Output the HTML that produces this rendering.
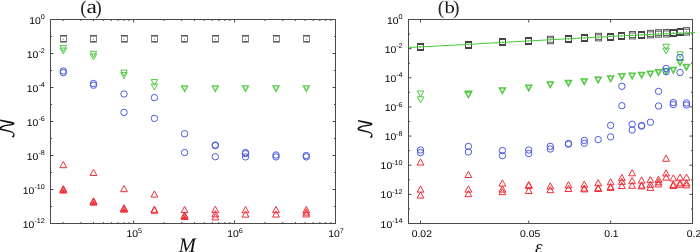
<!DOCTYPE html>
<html><head><meta charset="utf-8"><title>plot</title>
<style>
html,body{margin:0;padding:0;background:#fff;}
body{width:700px;height:252px;overflow:hidden;}
svg{display:block;text-rendering:geometricPrecision;}
</style></head>
<body>
<svg width="700" height="252" viewBox="0 0 700 252">
<rect width="700" height="252" fill="#fff"/>
<g>
<g id="left">
<line x1="63.11" y1="223.5" x2="63.11" y2="222.0" stroke="#4a4a4a" stroke-width="1"/>
<line x1="63.11" y1="19.5" x2="63.11" y2="21.0" stroke="#4a4a4a" stroke-width="1"/>
<line x1="80.88" y1="223.5" x2="80.88" y2="222.0" stroke="#4a4a4a" stroke-width="1"/>
<line x1="80.88" y1="19.5" x2="80.88" y2="21.0" stroke="#4a4a4a" stroke-width="1"/>
<line x1="93.49" y1="223.5" x2="93.49" y2="222.0" stroke="#4a4a4a" stroke-width="1"/>
<line x1="93.49" y1="19.5" x2="93.49" y2="21.0" stroke="#4a4a4a" stroke-width="1"/>
<line x1="103.27" y1="223.5" x2="103.27" y2="222.0" stroke="#4a4a4a" stroke-width="1"/>
<line x1="103.27" y1="19.5" x2="103.27" y2="21.0" stroke="#4a4a4a" stroke-width="1"/>
<line x1="111.26" y1="223.5" x2="111.26" y2="222.0" stroke="#4a4a4a" stroke-width="1"/>
<line x1="111.26" y1="19.5" x2="111.26" y2="21.0" stroke="#4a4a4a" stroke-width="1"/>
<line x1="118.02" y1="223.5" x2="118.02" y2="222.0" stroke="#4a4a4a" stroke-width="1"/>
<line x1="118.02" y1="19.5" x2="118.02" y2="21.0" stroke="#4a4a4a" stroke-width="1"/>
<line x1="123.87" y1="223.5" x2="123.87" y2="222.0" stroke="#4a4a4a" stroke-width="1"/>
<line x1="123.87" y1="19.5" x2="123.87" y2="21.0" stroke="#4a4a4a" stroke-width="1"/>
<line x1="129.03" y1="223.5" x2="129.03" y2="222.0" stroke="#4a4a4a" stroke-width="1"/>
<line x1="129.03" y1="19.5" x2="129.03" y2="21.0" stroke="#4a4a4a" stroke-width="1"/>
<line x1="133.65" y1="223.5" x2="133.65" y2="220.5" stroke="#4a4a4a" stroke-width="1"/>
<line x1="133.65" y1="19.5" x2="133.65" y2="22.5" stroke="#4a4a4a" stroke-width="1"/>
<line x1="164.03" y1="223.5" x2="164.03" y2="222.0" stroke="#4a4a4a" stroke-width="1"/>
<line x1="164.03" y1="19.5" x2="164.03" y2="21.0" stroke="#4a4a4a" stroke-width="1"/>
<line x1="181.81" y1="223.5" x2="181.81" y2="222.0" stroke="#4a4a4a" stroke-width="1"/>
<line x1="181.81" y1="19.5" x2="181.81" y2="21.0" stroke="#4a4a4a" stroke-width="1"/>
<line x1="194.41" y1="223.5" x2="194.41" y2="222.0" stroke="#4a4a4a" stroke-width="1"/>
<line x1="194.41" y1="19.5" x2="194.41" y2="21.0" stroke="#4a4a4a" stroke-width="1"/>
<line x1="204.19" y1="223.5" x2="204.19" y2="222.0" stroke="#4a4a4a" stroke-width="1"/>
<line x1="204.19" y1="19.5" x2="204.19" y2="21.0" stroke="#4a4a4a" stroke-width="1"/>
<line x1="212.19" y1="223.5" x2="212.19" y2="222.0" stroke="#4a4a4a" stroke-width="1"/>
<line x1="212.19" y1="19.5" x2="212.19" y2="21.0" stroke="#4a4a4a" stroke-width="1"/>
<line x1="218.94" y1="223.5" x2="218.94" y2="222.0" stroke="#4a4a4a" stroke-width="1"/>
<line x1="218.94" y1="19.5" x2="218.94" y2="21.0" stroke="#4a4a4a" stroke-width="1"/>
<line x1="224.80" y1="223.5" x2="224.80" y2="222.0" stroke="#4a4a4a" stroke-width="1"/>
<line x1="224.80" y1="19.5" x2="224.80" y2="21.0" stroke="#4a4a4a" stroke-width="1"/>
<line x1="229.96" y1="223.5" x2="229.96" y2="222.0" stroke="#4a4a4a" stroke-width="1"/>
<line x1="229.96" y1="19.5" x2="229.96" y2="21.0" stroke="#4a4a4a" stroke-width="1"/>
<line x1="234.58" y1="223.5" x2="234.58" y2="220.5" stroke="#4a4a4a" stroke-width="1"/>
<line x1="234.58" y1="19.5" x2="234.58" y2="22.5" stroke="#4a4a4a" stroke-width="1"/>
<line x1="264.96" y1="223.5" x2="264.96" y2="222.0" stroke="#4a4a4a" stroke-width="1"/>
<line x1="264.96" y1="19.5" x2="264.96" y2="21.0" stroke="#4a4a4a" stroke-width="1"/>
<line x1="282.73" y1="223.5" x2="282.73" y2="222.0" stroke="#4a4a4a" stroke-width="1"/>
<line x1="282.73" y1="19.5" x2="282.73" y2="21.0" stroke="#4a4a4a" stroke-width="1"/>
<line x1="295.34" y1="223.5" x2="295.34" y2="222.0" stroke="#4a4a4a" stroke-width="1"/>
<line x1="295.34" y1="19.5" x2="295.34" y2="21.0" stroke="#4a4a4a" stroke-width="1"/>
<line x1="305.12" y1="223.5" x2="305.12" y2="222.0" stroke="#4a4a4a" stroke-width="1"/>
<line x1="305.12" y1="19.5" x2="305.12" y2="21.0" stroke="#4a4a4a" stroke-width="1"/>
<line x1="313.11" y1="223.5" x2="313.11" y2="222.0" stroke="#4a4a4a" stroke-width="1"/>
<line x1="313.11" y1="19.5" x2="313.11" y2="21.0" stroke="#4a4a4a" stroke-width="1"/>
<line x1="319.87" y1="223.5" x2="319.87" y2="222.0" stroke="#4a4a4a" stroke-width="1"/>
<line x1="319.87" y1="19.5" x2="319.87" y2="21.0" stroke="#4a4a4a" stroke-width="1"/>
<line x1="325.72" y1="223.5" x2="325.72" y2="222.0" stroke="#4a4a4a" stroke-width="1"/>
<line x1="325.72" y1="19.5" x2="325.72" y2="21.0" stroke="#4a4a4a" stroke-width="1"/>
<line x1="330.88" y1="223.5" x2="330.88" y2="222.0" stroke="#4a4a4a" stroke-width="1"/>
<line x1="330.88" y1="19.5" x2="330.88" y2="21.0" stroke="#4a4a4a" stroke-width="1"/>
<line x1="50.5" y1="19.50" x2="53.5" y2="19.50" stroke="#4a4a4a" stroke-width="1"/>
<line x1="335.5" y1="19.50" x2="332.5" y2="19.50" stroke="#4a4a4a" stroke-width="1"/>
<line x1="50.5" y1="36.50" x2="52.0" y2="36.50" stroke="#4a4a4a" stroke-width="1"/>
<line x1="335.5" y1="36.50" x2="334.0" y2="36.50" stroke="#4a4a4a" stroke-width="1"/>
<line x1="50.5" y1="53.50" x2="53.5" y2="53.50" stroke="#4a4a4a" stroke-width="1"/>
<line x1="335.5" y1="53.50" x2="332.5" y2="53.50" stroke="#4a4a4a" stroke-width="1"/>
<line x1="50.5" y1="70.50" x2="52.0" y2="70.50" stroke="#4a4a4a" stroke-width="1"/>
<line x1="335.5" y1="70.50" x2="334.0" y2="70.50" stroke="#4a4a4a" stroke-width="1"/>
<line x1="50.5" y1="87.50" x2="53.5" y2="87.50" stroke="#4a4a4a" stroke-width="1"/>
<line x1="335.5" y1="87.50" x2="332.5" y2="87.50" stroke="#4a4a4a" stroke-width="1"/>
<line x1="50.5" y1="104.50" x2="52.0" y2="104.50" stroke="#4a4a4a" stroke-width="1"/>
<line x1="335.5" y1="104.50" x2="334.0" y2="104.50" stroke="#4a4a4a" stroke-width="1"/>
<line x1="50.5" y1="121.50" x2="53.5" y2="121.50" stroke="#4a4a4a" stroke-width="1"/>
<line x1="335.5" y1="121.50" x2="332.5" y2="121.50" stroke="#4a4a4a" stroke-width="1"/>
<line x1="50.5" y1="138.50" x2="52.0" y2="138.50" stroke="#4a4a4a" stroke-width="1"/>
<line x1="335.5" y1="138.50" x2="334.0" y2="138.50" stroke="#4a4a4a" stroke-width="1"/>
<line x1="50.5" y1="155.50" x2="53.5" y2="155.50" stroke="#4a4a4a" stroke-width="1"/>
<line x1="335.5" y1="155.50" x2="332.5" y2="155.50" stroke="#4a4a4a" stroke-width="1"/>
<line x1="50.5" y1="172.50" x2="52.0" y2="172.50" stroke="#4a4a4a" stroke-width="1"/>
<line x1="335.5" y1="172.50" x2="334.0" y2="172.50" stroke="#4a4a4a" stroke-width="1"/>
<line x1="50.5" y1="189.50" x2="53.5" y2="189.50" stroke="#4a4a4a" stroke-width="1"/>
<line x1="335.5" y1="189.50" x2="332.5" y2="189.50" stroke="#4a4a4a" stroke-width="1"/>
<line x1="50.5" y1="206.50" x2="52.0" y2="206.50" stroke="#4a4a4a" stroke-width="1"/>
<line x1="335.5" y1="206.50" x2="334.0" y2="206.50" stroke="#4a4a4a" stroke-width="1"/>
<line x1="50.5" y1="223.50" x2="53.5" y2="223.50" stroke="#4a4a4a" stroke-width="1"/>
<line x1="335.5" y1="223.50" x2="332.5" y2="223.50" stroke="#4a4a4a" stroke-width="1"/>
<rect x="50.5" y="19.5" width="285.0" height="204.0" fill="none" stroke="#4a4a4a" stroke-width="1"/>
</g>
<rect x="60.50" y="35.50" width="6.00" height="6.00" fill="none" stroke="#5a5a5a" stroke-width="1.0"/>
<rect x="60.50" y="36.50" width="6.00" height="6.00" fill="none" stroke="#8a8a8a" stroke-width="0.8"/>
<circle cx="63.30" cy="39.2" r="0.6" fill="#888"/>
<rect x="90.50" y="35.50" width="6.00" height="6.00" fill="none" stroke="#5a5a5a" stroke-width="1.0"/>
<rect x="90.50" y="36.50" width="6.00" height="6.00" fill="none" stroke="#8a8a8a" stroke-width="0.8"/>
<circle cx="93.50" cy="39.2" r="0.6" fill="#888"/>
<rect x="121.50" y="35.50" width="6.00" height="6.00" fill="none" stroke="#5a5a5a" stroke-width="1.0"/>
<rect x="121.50" y="36.50" width="6.00" height="6.00" fill="none" stroke="#8a8a8a" stroke-width="0.8"/>
<circle cx="124.00" cy="39.2" r="0.6" fill="#888"/>
<rect x="151.50" y="35.50" width="6.00" height="6.00" fill="none" stroke="#5a5a5a" stroke-width="1.0"/>
<rect x="151.50" y="36.50" width="6.00" height="6.00" fill="none" stroke="#8a8a8a" stroke-width="0.8"/>
<circle cx="154.40" cy="39.2" r="0.6" fill="#888"/>
<rect x="181.50" y="35.50" width="6.00" height="6.00" fill="none" stroke="#5a5a5a" stroke-width="1.0"/>
<rect x="181.50" y="36.50" width="6.00" height="6.00" fill="none" stroke="#8a8a8a" stroke-width="0.8"/>
<circle cx="184.60" cy="39.2" r="0.6" fill="#888"/>
<rect x="212.50" y="35.50" width="6.00" height="6.00" fill="none" stroke="#5a5a5a" stroke-width="1.0"/>
<rect x="212.50" y="36.50" width="6.00" height="6.00" fill="none" stroke="#8a8a8a" stroke-width="0.8"/>
<circle cx="215.30" cy="39.2" r="0.6" fill="#888"/>
<rect x="242.50" y="35.50" width="6.00" height="6.00" fill="none" stroke="#5a5a5a" stroke-width="1.0"/>
<rect x="242.50" y="36.50" width="6.00" height="6.00" fill="none" stroke="#8a8a8a" stroke-width="0.8"/>
<circle cx="245.50" cy="39.2" r="0.6" fill="#888"/>
<rect x="273.50" y="35.50" width="6.00" height="6.00" fill="none" stroke="#5a5a5a" stroke-width="1.0"/>
<rect x="273.50" y="36.50" width="6.00" height="6.00" fill="none" stroke="#8a8a8a" stroke-width="0.8"/>
<circle cx="276.00" cy="39.2" r="0.6" fill="#888"/>
<rect x="303.50" y="35.50" width="6.00" height="6.00" fill="none" stroke="#5a5a5a" stroke-width="1.0"/>
<rect x="303.50" y="36.50" width="6.00" height="6.00" fill="none" stroke="#8a8a8a" stroke-width="0.8"/>
<circle cx="306.30" cy="39.2" r="0.6" fill="#888"/>
<polygon points="60.05,45.40 66.55,45.40 63.30,51.40" fill="none" stroke="#55c848" stroke-width="1.0" stroke-linejoin="miter"/>
<polygon points="60.05,48.00 66.55,48.00 63.30,54.00" fill="none" stroke="#55c848" stroke-width="1.0" stroke-linejoin="miter"/>
<polygon points="90.25,51.30 96.75,51.30 93.50,57.30" fill="none" stroke="#55c848" stroke-width="1.0" stroke-linejoin="miter"/>
<polygon points="90.25,53.90 96.75,53.90 93.50,59.90" fill="none" stroke="#55c848" stroke-width="1.0" stroke-linejoin="miter"/>
<polygon points="120.75,70.10 127.25,70.10 124.00,76.10" fill="none" stroke="#55c848" stroke-width="1.0" stroke-linejoin="miter"/>
<polygon points="120.75,72.60 127.25,72.60 124.00,78.60" fill="none" stroke="#55c848" stroke-width="1.0" stroke-linejoin="miter"/>
<polygon points="151.15,79.60 157.65,79.60 154.40,85.60" fill="none" stroke="#55c848" stroke-width="1.0" stroke-linejoin="miter"/>
<polygon points="151.15,84.00 157.65,84.00 154.40,90.00" fill="none" stroke="#55c848" stroke-width="1.0" stroke-linejoin="miter"/>
<polygon points="181.60,85.85 187.60,85.85 184.60,91.35" fill="#e4f6e0" stroke="#5ccc50" stroke-width="1.3" stroke-linejoin="miter"/>
<polygon points="212.30,85.85 218.30,85.85 215.30,91.35" fill="#e4f6e0" stroke="#5ccc50" stroke-width="1.3" stroke-linejoin="miter"/>
<polygon points="242.50,85.85 248.50,85.85 245.50,91.35" fill="#e4f6e0" stroke="#5ccc50" stroke-width="1.3" stroke-linejoin="miter"/>
<polygon points="273.00,85.85 279.00,85.85 276.00,91.35" fill="#e4f6e0" stroke="#5ccc50" stroke-width="1.3" stroke-linejoin="miter"/>
<polygon points="303.30,85.85 309.30,85.85 306.30,91.35" fill="#e4f6e0" stroke="#5ccc50" stroke-width="1.3" stroke-linejoin="miter"/>
<circle cx="63.30" cy="71.00" r="3.20" fill="none" stroke="#4c5ce2" stroke-width="1.0"/>
<circle cx="63.30" cy="72.60" r="3.20" fill="none" stroke="#4c5ce2" stroke-width="1.0"/>
<circle cx="93.50" cy="83.50" r="3.20" fill="none" stroke="#4c5ce2" stroke-width="1.0"/>
<circle cx="93.50" cy="85.20" r="3.20" fill="none" stroke="#4c5ce2" stroke-width="1.0"/>
<circle cx="124.00" cy="94.00" r="3.20" fill="none" stroke="#4c5ce2" stroke-width="1.0"/>
<circle cx="124.00" cy="112.40" r="3.20" fill="none" stroke="#4c5ce2" stroke-width="1.0"/>
<circle cx="154.40" cy="97.60" r="3.20" fill="none" stroke="#4c5ce2" stroke-width="1.0"/>
<circle cx="154.40" cy="118.40" r="3.20" fill="none" stroke="#4c5ce2" stroke-width="1.0"/>
<circle cx="184.60" cy="133.70" r="3.20" fill="none" stroke="#4c5ce2" stroke-width="1.0"/>
<circle cx="184.60" cy="152.50" r="3.20" fill="none" stroke="#4c5ce2" stroke-width="1.0"/>
<circle cx="215.30" cy="145.00" r="3.20" fill="none" stroke="#4c5ce2" stroke-width="1.0"/>
<circle cx="215.30" cy="145.60" r="3.20" fill="none" stroke="#4c5ce2" stroke-width="1.0"/>
<circle cx="215.30" cy="156.70" r="3.20" fill="none" stroke="#4c5ce2" stroke-width="1.0"/>
<circle cx="245.50" cy="152.60" r="3.20" fill="none" stroke="#4c5ce2" stroke-width="1.0"/>
<circle cx="245.50" cy="153.60" r="3.20" fill="none" stroke="#4c5ce2" stroke-width="1.0"/>
<circle cx="245.50" cy="156.90" r="3.20" fill="none" stroke="#4c5ce2" stroke-width="1.0"/>
<circle cx="276.00" cy="155.00" r="3.20" fill="none" stroke="#4c5ce2" stroke-width="1.0"/>
<circle cx="276.00" cy="156.90" r="3.20" fill="none" stroke="#4c5ce2" stroke-width="1.0"/>
<circle cx="306.30" cy="155.50" r="3.20" fill="none" stroke="#4c5ce2" stroke-width="1.0"/>
<circle cx="306.30" cy="156.90" r="3.20" fill="none" stroke="#4c5ce2" stroke-width="1.0"/>
<polygon points="59.90,167.70 66.70,167.70 63.30,161.50" fill="none" stroke="#f0303a" stroke-width="1.0" stroke-linejoin="miter"/>
<polygon points="59.90,192.50 66.70,192.50 63.30,186.30" fill="#f0303a" stroke="#f0303a" stroke-width="1.0" stroke-linejoin="miter"/>
<polygon points="59.90,193.80 66.70,193.80 63.30,187.60" fill="none" stroke="#fff" stroke-width="0.7" stroke-linejoin="miter"/>
<polygon points="59.90,191.90 66.70,191.90 63.30,185.70" fill="none" stroke="#f0303a" stroke-width="1.0" stroke-linejoin="miter"/>
<polygon points="59.90,193.10 66.70,193.10 63.30,186.90" fill="none" stroke="#f0303a" stroke-width="1.0" stroke-linejoin="miter"/>
<polygon points="90.10,175.50 96.90,175.50 93.50,169.30" fill="none" stroke="#f0303a" stroke-width="1.0" stroke-linejoin="miter"/>
<polygon points="90.10,204.60 96.90,204.60 93.50,198.40" fill="#f0303a" stroke="#f0303a" stroke-width="1.0" stroke-linejoin="miter"/>
<polygon points="90.10,205.90 96.90,205.90 93.50,199.70" fill="none" stroke="#fff" stroke-width="0.7" stroke-linejoin="miter"/>
<polygon points="90.10,204.00 96.90,204.00 93.50,197.80" fill="none" stroke="#f0303a" stroke-width="1.0" stroke-linejoin="miter"/>
<polygon points="90.10,205.20 96.90,205.20 93.50,199.00" fill="none" stroke="#f0303a" stroke-width="1.0" stroke-linejoin="miter"/>
<polygon points="120.60,191.70 127.40,191.70 124.00,185.50" fill="none" stroke="#f0303a" stroke-width="1.0" stroke-linejoin="miter"/>
<polygon points="120.60,211.60 127.40,211.60 124.00,205.40" fill="#f0303a" stroke="#f0303a" stroke-width="1.0" stroke-linejoin="miter"/>
<polygon points="120.60,212.90 127.40,212.90 124.00,206.70" fill="none" stroke="#fff" stroke-width="0.7" stroke-linejoin="miter"/>
<polygon points="120.60,211.00 127.40,211.00 124.00,204.80" fill="none" stroke="#f0303a" stroke-width="1.0" stroke-linejoin="miter"/>
<polygon points="120.60,212.20 127.40,212.20 124.00,206.00" fill="none" stroke="#f0303a" stroke-width="1.0" stroke-linejoin="miter"/>
<polygon points="151.00,197.10 157.80,197.10 154.40,190.90" fill="none" stroke="#f0303a" stroke-width="1.0" stroke-linejoin="miter"/>
<polygon points="151.00,212.30 157.80,212.30 154.40,206.10" fill="none" stroke="#f0303a" stroke-width="1.0" stroke-linejoin="miter"/>
<polygon points="151.00,213.30 157.80,213.30 154.40,207.10" fill="none" stroke="#f0303a" stroke-width="1.0" stroke-linejoin="miter"/>
<polygon points="181.20,212.50 188.00,212.50 184.60,206.30" fill="none" stroke="#f0303a" stroke-width="1.0" stroke-linejoin="miter"/>
<polygon points="181.20,218.90 188.00,218.90 184.60,212.70" fill="#f0303a" stroke="#f0303a" stroke-width="1.0" stroke-linejoin="miter"/>
<polygon points="181.20,220.20 188.00,220.20 184.60,214.00" fill="none" stroke="#fff" stroke-width="0.7" stroke-linejoin="miter"/>
<polygon points="181.20,218.30 188.00,218.30 184.60,212.10" fill="none" stroke="#f0303a" stroke-width="1.0" stroke-linejoin="miter"/>
<polygon points="181.20,219.50 188.00,219.50 184.60,213.30" fill="none" stroke="#f0303a" stroke-width="1.0" stroke-linejoin="miter"/>
<polygon points="211.90,212.40 218.70,212.40 215.30,206.20" fill="none" stroke="#f0303a" stroke-width="1.0" stroke-linejoin="miter"/>
<polygon points="211.90,216.90 218.70,216.90 215.30,210.70" fill="none" stroke="#f0303a" stroke-width="1.0" stroke-linejoin="miter"/>
<polygon points="211.90,219.90 218.70,219.90 215.30,213.70" fill="none" stroke="#f0303a" stroke-width="1.0" stroke-linejoin="miter"/>
<polygon points="242.10,212.70 248.90,212.70 245.50,206.50" fill="none" stroke="#f0303a" stroke-width="1.0" stroke-linejoin="miter"/>
<polygon points="242.10,217.10 248.90,217.10 245.50,210.90" fill="none" stroke="#f0303a" stroke-width="1.0" stroke-linejoin="miter"/>
<polygon points="272.60,212.70 279.40,212.70 276.00,206.50" fill="none" stroke="#f0303a" stroke-width="1.0" stroke-linejoin="miter"/>
<polygon points="272.60,217.10 279.40,217.10 276.00,210.90" fill="none" stroke="#f0303a" stroke-width="1.0" stroke-linejoin="miter"/>
<polygon points="302.90,212.70 309.70,212.70 306.30,206.50" fill="none" stroke="#f0303a" stroke-width="1.0" stroke-linejoin="miter"/>
<polygon points="302.90,215.10 309.70,215.10 306.30,208.90" fill="none" stroke="#f0303a" stroke-width="1.0" stroke-linejoin="miter"/>
<polygon points="302.90,216.90 309.70,216.90 306.30,210.70" fill="none" stroke="#f0303a" stroke-width="1.0" stroke-linejoin="miter"/>
<g id="right">
<line x1="420.50" y1="223.5" x2="420.50" y2="220.5" stroke="#4a4a4a" stroke-width="1"/>
<line x1="420.50" y1="19.5" x2="420.50" y2="22.5" stroke="#4a4a4a" stroke-width="1"/>
<line x1="528.74" y1="223.5" x2="528.74" y2="220.5" stroke="#4a4a4a" stroke-width="1"/>
<line x1="528.74" y1="19.5" x2="528.74" y2="22.5" stroke="#4a4a4a" stroke-width="1"/>
<line x1="610.62" y1="223.5" x2="610.62" y2="220.5" stroke="#4a4a4a" stroke-width="1"/>
<line x1="610.62" y1="19.5" x2="610.62" y2="22.5" stroke="#4a4a4a" stroke-width="1"/>
<line x1="692.50" y1="223.5" x2="692.50" y2="220.5" stroke="#4a4a4a" stroke-width="1"/>
<line x1="692.50" y1="19.5" x2="692.50" y2="22.5" stroke="#4a4a4a" stroke-width="1"/>
<line x1="408.5" y1="19.50" x2="411.5" y2="19.50" stroke="#4a4a4a" stroke-width="1"/>
<line x1="692.5" y1="19.50" x2="689.5" y2="19.50" stroke="#4a4a4a" stroke-width="1"/>
<line x1="408.5" y1="34.07" x2="410.0" y2="34.07" stroke="#4a4a4a" stroke-width="1"/>
<line x1="692.5" y1="34.07" x2="691.0" y2="34.07" stroke="#4a4a4a" stroke-width="1"/>
<line x1="408.5" y1="48.64" x2="411.5" y2="48.64" stroke="#4a4a4a" stroke-width="1"/>
<line x1="692.5" y1="48.64" x2="689.5" y2="48.64" stroke="#4a4a4a" stroke-width="1"/>
<line x1="408.5" y1="63.21" x2="410.0" y2="63.21" stroke="#4a4a4a" stroke-width="1"/>
<line x1="692.5" y1="63.21" x2="691.0" y2="63.21" stroke="#4a4a4a" stroke-width="1"/>
<line x1="408.5" y1="77.79" x2="411.5" y2="77.79" stroke="#4a4a4a" stroke-width="1"/>
<line x1="692.5" y1="77.79" x2="689.5" y2="77.79" stroke="#4a4a4a" stroke-width="1"/>
<line x1="408.5" y1="92.36" x2="410.0" y2="92.36" stroke="#4a4a4a" stroke-width="1"/>
<line x1="692.5" y1="92.36" x2="691.0" y2="92.36" stroke="#4a4a4a" stroke-width="1"/>
<line x1="408.5" y1="106.93" x2="411.5" y2="106.93" stroke="#4a4a4a" stroke-width="1"/>
<line x1="692.5" y1="106.93" x2="689.5" y2="106.93" stroke="#4a4a4a" stroke-width="1"/>
<line x1="408.5" y1="121.50" x2="410.0" y2="121.50" stroke="#4a4a4a" stroke-width="1"/>
<line x1="692.5" y1="121.50" x2="691.0" y2="121.50" stroke="#4a4a4a" stroke-width="1"/>
<line x1="408.5" y1="136.07" x2="411.5" y2="136.07" stroke="#4a4a4a" stroke-width="1"/>
<line x1="692.5" y1="136.07" x2="689.5" y2="136.07" stroke="#4a4a4a" stroke-width="1"/>
<line x1="408.5" y1="150.64" x2="410.0" y2="150.64" stroke="#4a4a4a" stroke-width="1"/>
<line x1="692.5" y1="150.64" x2="691.0" y2="150.64" stroke="#4a4a4a" stroke-width="1"/>
<line x1="408.5" y1="165.21" x2="411.5" y2="165.21" stroke="#4a4a4a" stroke-width="1"/>
<line x1="692.5" y1="165.21" x2="689.5" y2="165.21" stroke="#4a4a4a" stroke-width="1"/>
<line x1="408.5" y1="179.79" x2="410.0" y2="179.79" stroke="#4a4a4a" stroke-width="1"/>
<line x1="692.5" y1="179.79" x2="691.0" y2="179.79" stroke="#4a4a4a" stroke-width="1"/>
<line x1="408.5" y1="194.36" x2="411.5" y2="194.36" stroke="#4a4a4a" stroke-width="1"/>
<line x1="692.5" y1="194.36" x2="689.5" y2="194.36" stroke="#4a4a4a" stroke-width="1"/>
<line x1="408.5" y1="208.93" x2="410.0" y2="208.93" stroke="#4a4a4a" stroke-width="1"/>
<line x1="692.5" y1="208.93" x2="691.0" y2="208.93" stroke="#4a4a4a" stroke-width="1"/>
<line x1="408.5" y1="223.50" x2="411.5" y2="223.50" stroke="#4a4a4a" stroke-width="1"/>
<line x1="692.5" y1="223.50" x2="689.5" y2="223.50" stroke="#4a4a4a" stroke-width="1"/>
<rect x="408.5" y="19.5" width="284.0" height="204.0" fill="none" stroke="#4a4a4a" stroke-width="1"/>
</g>
<rect x="417.50" y="43.50" width="6.00" height="6.00" fill="none" stroke="#444" stroke-width="1.0"/>
<rect x="417.50" y="44.50" width="6.00" height="6.00" fill="none" stroke="#444" stroke-width="1.0"/>
<circle cx="420.50" cy="47.10" r="0.6" fill="#888"/>
<rect x="465.50" y="41.50" width="6.00" height="6.00" fill="none" stroke="#444" stroke-width="1.0"/>
<rect x="465.50" y="42.50" width="6.00" height="6.00" fill="none" stroke="#444" stroke-width="1.0"/>
<circle cx="468.40" cy="44.50" r="0.6" fill="#888"/>
<rect x="499.50" y="38.50" width="6.00" height="6.00" fill="none" stroke="#444" stroke-width="1.0"/>
<rect x="499.50" y="39.50" width="6.00" height="6.00" fill="none" stroke="#444" stroke-width="1.0"/>
<circle cx="502.38" cy="42.40" r="0.6" fill="#888"/>
<rect x="525.50" y="37.50" width="6.00" height="6.00" fill="none" stroke="#444" stroke-width="1.0"/>
<rect x="525.50" y="38.50" width="6.00" height="6.00" fill="none" stroke="#444" stroke-width="1.0"/>
<circle cx="528.74" cy="41.00" r="0.6" fill="#888"/>
<rect x="547.50" y="36.25" width="6.00" height="6.00" fill="none" stroke="#5a5a5a" stroke-width="1.0"/>
<rect x="547.50" y="37.75" width="6.00" height="6.00" fill="none" stroke="#5a5a5a" stroke-width="1.0"/>
<circle cx="550.28" cy="40.00" r="0.6" fill="#888"/>
<rect x="565.50" y="35.50" width="6.00" height="6.00" fill="none" stroke="#444" stroke-width="1.0"/>
<rect x="565.50" y="36.50" width="6.00" height="6.00" fill="none" stroke="#444" stroke-width="1.0"/>
<circle cx="568.49" cy="39.10" r="0.6" fill="#888"/>
<rect x="581.50" y="34.50" width="6.00" height="6.00" fill="none" stroke="#444" stroke-width="1.0"/>
<rect x="581.50" y="35.50" width="6.00" height="6.00" fill="none" stroke="#444" stroke-width="1.0"/>
<circle cx="584.26" cy="38.00" r="0.6" fill="#888"/>
<rect x="595.50" y="33.35" width="6.00" height="6.00" fill="none" stroke="#5a5a5a" stroke-width="1.0"/>
<rect x="595.50" y="34.85" width="6.00" height="6.00" fill="none" stroke="#5a5a5a" stroke-width="1.0"/>
<circle cx="598.17" cy="37.10" r="0.6" fill="#888"/>
<rect x="607.50" y="33.50" width="6.00" height="6.00" fill="none" stroke="#444" stroke-width="1.0"/>
<rect x="607.50" y="34.50" width="6.00" height="6.00" fill="none" stroke="#444" stroke-width="1.0"/>
<circle cx="610.62" cy="36.50" r="0.6" fill="#888"/>
<rect x="618.50" y="32.50" width="6.00" height="6.00" fill="none" stroke="#444" stroke-width="1.0"/>
<rect x="618.50" y="33.50" width="6.00" height="6.00" fill="none" stroke="#444" stroke-width="1.0"/>
<circle cx="621.88" cy="35.70" r="0.6" fill="#888"/>
<rect x="629.50" y="31.45" width="6.00" height="6.00" fill="none" stroke="#5a5a5a" stroke-width="1.0"/>
<rect x="629.50" y="32.95" width="6.00" height="6.00" fill="none" stroke="#5a5a5a" stroke-width="1.0"/>
<circle cx="632.16" cy="35.20" r="0.6" fill="#888"/>
<rect x="638.50" y="31.50" width="6.00" height="6.00" fill="none" stroke="#444" stroke-width="1.0"/>
<rect x="638.50" y="32.50" width="6.00" height="6.00" fill="none" stroke="#444" stroke-width="1.0"/>
<circle cx="641.61" cy="34.85" r="0.6" fill="#888"/>
<rect x="647.50" y="30.35" width="6.00" height="6.00" fill="none" stroke="#5a5a5a" stroke-width="1.0"/>
<rect x="647.50" y="31.85" width="6.00" height="6.00" fill="none" stroke="#5a5a5a" stroke-width="1.0"/>
<circle cx="650.37" cy="34.10" r="0.6" fill="#888"/>
<rect x="655.50" y="29.65" width="6.00" height="6.00" fill="none" stroke="#5a5a5a" stroke-width="1.0"/>
<rect x="655.50" y="31.15" width="6.00" height="6.00" fill="none" stroke="#5a5a5a" stroke-width="1.0"/>
<circle cx="658.52" cy="33.40" r="0.6" fill="#888"/>
<rect x="663.50" y="29.45" width="6.00" height="6.00" fill="none" stroke="#5a5a5a" stroke-width="1.0"/>
<rect x="663.50" y="30.95" width="6.00" height="6.00" fill="none" stroke="#5a5a5a" stroke-width="1.0"/>
<circle cx="666.14" cy="33.20" r="0.6" fill="#888"/>
<rect x="670.50" y="29.50" width="6.00" height="6.00" fill="none" stroke="#444" stroke-width="1.0"/>
<rect x="670.50" y="30.50" width="6.00" height="6.00" fill="none" stroke="#444" stroke-width="1.0"/>
<circle cx="673.30" cy="32.50" r="0.6" fill="#888"/>
<rect x="677.50" y="28.50" width="6.00" height="6.00" fill="none" stroke="#444" stroke-width="1.0"/>
<rect x="677.50" y="29.50" width="6.00" height="6.00" fill="none" stroke="#444" stroke-width="1.0"/>
<circle cx="680.05" cy="32.40" r="0.6" fill="#888"/>
<rect x="683.50" y="27.65" width="6.00" height="6.00" fill="none" stroke="#5a5a5a" stroke-width="1.0"/>
<rect x="683.50" y="29.15" width="6.00" height="6.00" fill="none" stroke="#5a5a5a" stroke-width="1.0"/>
<circle cx="686.44" cy="31.40" r="0.6" fill="#888"/>
<polyline points="408.5,47.5 475,44.0 540,40.3 595,37.3 645,34.7 695,32.5" fill="none" stroke="#44cc33" stroke-width="1"/>
<polygon points="417.25,91.00 423.75,91.00 420.50,97.00" fill="none" stroke="#55c848" stroke-width="1.0" stroke-linejoin="miter"/>
<polygon points="417.25,96.80 423.75,96.80 420.50,102.80" fill="none" stroke="#55c848" stroke-width="1.0" stroke-linejoin="miter"/>
<polygon points="465.40,91.25 471.40,91.25 468.40,96.75" fill="#e4f6e0" stroke="#55c848" stroke-width="1.5" stroke-linejoin="miter"/>
<polygon points="465.40,92.05 471.40,92.05 468.40,97.55" fill="#e4f6e0" stroke="#55c848" stroke-width="1.5" stroke-linejoin="miter"/>
<polygon points="499.38,88.05 505.38,88.05 502.38,93.55" fill="#e4f6e0" stroke="#55c848" stroke-width="1.5" stroke-linejoin="miter"/>
<polygon points="525.74,85.15 531.74,85.15 528.74,90.65" fill="#e4f6e0" stroke="#55c848" stroke-width="1.5" stroke-linejoin="miter"/>
<polygon points="547.28,82.05 553.28,82.05 550.28,87.55" fill="#e4f6e0" stroke="#55c848" stroke-width="1.5" stroke-linejoin="miter"/>
<polygon points="565.49,80.45 571.49,80.45 568.49,85.95" fill="#e4f6e0" stroke="#55c848" stroke-width="1.5" stroke-linejoin="miter"/>
<polygon points="581.26,78.95 587.26,78.95 584.26,84.45" fill="#e4f6e0" stroke="#55c848" stroke-width="1.5" stroke-linejoin="miter"/>
<polygon points="595.17,77.25 601.17,77.25 598.17,82.75" fill="#e4f6e0" stroke="#55c848" stroke-width="1.5" stroke-linejoin="miter"/>
<polygon points="607.62,76.05 613.62,76.05 610.62,81.55" fill="#e4f6e0" stroke="#55c848" stroke-width="1.5" stroke-linejoin="miter"/>
<polygon points="618.88,73.85 624.88,73.85 621.88,79.35" fill="#e4f6e0" stroke="#55c848" stroke-width="1.5" stroke-linejoin="miter"/>
<polygon points="629.16,73.25 635.16,73.25 632.16,78.75" fill="#e4f6e0" stroke="#55c848" stroke-width="1.5" stroke-linejoin="miter"/>
<polygon points="638.61,72.45 644.61,72.45 641.61,77.95" fill="#e4f6e0" stroke="#55c848" stroke-width="1.5" stroke-linejoin="miter"/>
<polygon points="647.37,71.15 653.37,71.15 650.37,76.65" fill="#e4f6e0" stroke="#55c848" stroke-width="1.5" stroke-linejoin="miter"/>
<polygon points="655.52,69.65 661.52,69.65 658.52,75.15" fill="#e4f6e0" stroke="#55c848" stroke-width="1.5" stroke-linejoin="miter"/>
<polygon points="662.89,44.20 669.39,44.20 666.14,50.20" fill="none" stroke="#55c848" stroke-width="1.0" stroke-linejoin="miter"/>
<polygon points="662.89,48.00 669.39,48.00 666.14,54.00" fill="none" stroke="#55c848" stroke-width="1.0" stroke-linejoin="miter"/>
<polygon points="663.14,68.85 669.14,68.85 666.14,74.35" fill="#e4f6e0" stroke="#55c848" stroke-width="1.5" stroke-linejoin="miter"/>
<polygon points="670.30,67.55 676.30,67.55 673.30,73.05" fill="#e4f6e0" stroke="#55c848" stroke-width="1.5" stroke-linejoin="miter"/>
<polygon points="676.80,51.80 683.30,51.80 680.05,57.80" fill="none" stroke="#55c848" stroke-width="1.0" stroke-linejoin="miter"/>
<polygon points="677.05,59.85 683.05,59.85 680.05,65.35" fill="#e4f6e0" stroke="#55c848" stroke-width="1.5" stroke-linejoin="miter"/>
<polygon points="683.44,64.45 689.44,64.45 686.44,69.95" fill="#e4f6e0" stroke="#55c848" stroke-width="1.5" stroke-linejoin="miter"/>
<circle cx="420.50" cy="150.00" r="3.20" fill="none" stroke="#4c5ce2" stroke-width="1.0"/>
<circle cx="420.50" cy="152.60" r="3.20" fill="none" stroke="#4c5ce2" stroke-width="1.0"/>
<circle cx="468.40" cy="146.40" r="3.20" fill="none" stroke="#4c5ce2" stroke-width="1.0"/>
<circle cx="468.40" cy="152.00" r="3.20" fill="none" stroke="#4c5ce2" stroke-width="1.0"/>
<circle cx="502.38" cy="150.60" r="3.20" fill="none" stroke="#4c5ce2" stroke-width="1.0"/>
<circle cx="502.38" cy="155.60" r="3.20" fill="none" stroke="#4c5ce2" stroke-width="1.0"/>
<circle cx="528.74" cy="150.00" r="3.20" fill="none" stroke="#4c5ce2" stroke-width="1.0"/>
<circle cx="528.74" cy="153.60" r="3.20" fill="none" stroke="#4c5ce2" stroke-width="1.0"/>
<circle cx="550.28" cy="146.30" r="3.20" fill="none" stroke="#4c5ce2" stroke-width="1.0"/>
<circle cx="550.28" cy="149.00" r="3.20" fill="none" stroke="#4c5ce2" stroke-width="1.0"/>
<circle cx="568.49" cy="143.60" r="3.20" fill="none" stroke="#4c5ce2" stroke-width="1.0"/>
<circle cx="568.49" cy="144.20" r="3.20" fill="none" stroke="#4c5ce2" stroke-width="1.0"/>
<circle cx="584.26" cy="140.40" r="3.20" fill="none" stroke="#4c5ce2" stroke-width="1.0"/>
<circle cx="584.26" cy="143.20" r="3.20" fill="none" stroke="#4c5ce2" stroke-width="1.0"/>
<circle cx="598.17" cy="139.60" r="3.20" fill="none" stroke="#4c5ce2" stroke-width="1.0"/>
<circle cx="610.62" cy="125.40" r="3.20" fill="none" stroke="#4c5ce2" stroke-width="1.0"/>
<circle cx="610.62" cy="136.90" r="3.20" fill="none" stroke="#4c5ce2" stroke-width="1.0"/>
<circle cx="621.88" cy="86.30" r="3.20" fill="none" stroke="#4c5ce2" stroke-width="1.0"/>
<circle cx="621.88" cy="105.70" r="3.20" fill="none" stroke="#4c5ce2" stroke-width="1.0"/>
<circle cx="632.16" cy="124.30" r="3.20" fill="none" stroke="#4c5ce2" stroke-width="1.0"/>
<circle cx="632.16" cy="130.00" r="3.20" fill="none" stroke="#4c5ce2" stroke-width="1.0"/>
<circle cx="641.61" cy="125.50" r="3.20" fill="none" stroke="#4c5ce2" stroke-width="1.0"/>
<circle cx="641.61" cy="126.10" r="3.20" fill="none" stroke="#4c5ce2" stroke-width="1.0"/>
<circle cx="650.37" cy="122.20" r="3.20" fill="none" stroke="#4c5ce2" stroke-width="1.0"/>
<circle cx="658.52" cy="91.40" r="3.20" fill="none" stroke="#4c5ce2" stroke-width="1.0"/>
<circle cx="658.52" cy="106.00" r="3.20" fill="none" stroke="#4c5ce2" stroke-width="1.0"/>
<circle cx="666.14" cy="68.50" r="3.20" fill="none" stroke="#4c5ce2" stroke-width="1.0"/>
<circle cx="666.14" cy="71.60" r="3.20" fill="none" stroke="#4c5ce2" stroke-width="1.0"/>
<circle cx="673.30" cy="102.50" r="3.20" fill="none" stroke="#4c5ce2" stroke-width="1.0"/>
<circle cx="673.30" cy="104.60" r="3.20" fill="none" stroke="#4c5ce2" stroke-width="1.0"/>
<circle cx="680.05" cy="57.40" r="3.20" fill="none" stroke="#4c5ce2" stroke-width="1.0"/>
<circle cx="680.05" cy="72.50" r="3.20" fill="none" stroke="#4c5ce2" stroke-width="1.0"/>
<circle cx="686.44" cy="103.00" r="3.20" fill="none" stroke="#4c5ce2" stroke-width="1.0"/>
<circle cx="686.44" cy="105.00" r="3.20" fill="none" stroke="#4c5ce2" stroke-width="1.0"/>
<polygon points="417.10,165.10 423.90,165.10 420.50,158.90" fill="none" stroke="#f0303a" stroke-width="1.0" stroke-linejoin="miter"/>
<polygon points="417.10,192.10 423.90,192.10 420.50,185.90" fill="none" stroke="#f0303a" stroke-width="1.0" stroke-linejoin="miter"/>
<polygon points="417.10,198.10 423.90,198.10 420.50,191.90" fill="none" stroke="#f0303a" stroke-width="1.0" stroke-linejoin="miter"/>
<polygon points="465.00,177.50 471.80,177.50 468.40,171.30" fill="none" stroke="#f0303a" stroke-width="1.0" stroke-linejoin="miter"/>
<polygon points="465.00,192.10 471.80,192.10 468.40,185.90" fill="none" stroke="#f0303a" stroke-width="1.0" stroke-linejoin="miter"/>
<polygon points="465.00,196.70 471.80,196.70 468.40,190.50" fill="none" stroke="#f0303a" stroke-width="1.0" stroke-linejoin="miter"/>
<polygon points="498.98,186.10 505.78,186.10 502.38,179.90" fill="none" stroke="#f0303a" stroke-width="1.0" stroke-linejoin="miter"/>
<polygon points="498.98,192.10 505.78,192.10 502.38,185.90" fill="none" stroke="#f0303a" stroke-width="1.0" stroke-linejoin="miter"/>
<polygon points="498.98,194.70 505.78,194.70 502.38,188.50" fill="none" stroke="#f0303a" stroke-width="1.0" stroke-linejoin="miter"/>
<polygon points="525.34,187.70 532.14,187.70 528.74,181.50" fill="none" stroke="#f0303a" stroke-width="1.0" stroke-linejoin="miter"/>
<polygon points="525.34,188.50 532.14,188.50 528.74,182.30" fill="none" stroke="#f0303a" stroke-width="1.0" stroke-linejoin="miter"/>
<polygon points="525.34,193.50 532.14,193.50 528.74,187.30" fill="none" stroke="#f0303a" stroke-width="1.0" stroke-linejoin="miter"/>
<polygon points="546.88,189.00 553.68,189.00 550.28,182.80" fill="none" stroke="#f0303a" stroke-width="1.0" stroke-linejoin="miter"/>
<polygon points="546.88,192.70 553.68,192.70 550.28,186.50" fill="none" stroke="#f0303a" stroke-width="1.0" stroke-linejoin="miter"/>
<polygon points="565.09,187.90 571.89,187.90 568.49,181.70" fill="none" stroke="#f0303a" stroke-width="1.0" stroke-linejoin="miter"/>
<polygon points="565.09,191.50 571.89,191.50 568.49,185.30" fill="none" stroke="#f0303a" stroke-width="1.0" stroke-linejoin="miter"/>
<polygon points="580.86,187.30 587.66,187.30 584.26,181.10" fill="none" stroke="#f0303a" stroke-width="1.0" stroke-linejoin="miter"/>
<polygon points="580.86,191.10 587.66,191.10 584.26,184.90" fill="none" stroke="#f0303a" stroke-width="1.0" stroke-linejoin="miter"/>
<polygon points="580.86,191.90 587.66,191.90 584.26,185.70" fill="none" stroke="#f0303a" stroke-width="1.0" stroke-linejoin="miter"/>
<polygon points="594.77,185.80 601.57,185.80 598.17,179.60" fill="none" stroke="#f0303a" stroke-width="1.0" stroke-linejoin="miter"/>
<polygon points="594.77,190.70 601.57,190.70 598.17,184.50" fill="none" stroke="#f0303a" stroke-width="1.0" stroke-linejoin="miter"/>
<polygon points="594.77,191.50 601.57,191.50 598.17,185.30" fill="none" stroke="#f0303a" stroke-width="1.0" stroke-linejoin="miter"/>
<polygon points="607.22,184.80 614.02,184.80 610.62,178.60" fill="none" stroke="#f0303a" stroke-width="1.0" stroke-linejoin="miter"/>
<polygon points="607.22,189.60 614.02,189.60 610.62,183.40" fill="none" stroke="#f0303a" stroke-width="1.0" stroke-linejoin="miter"/>
<polygon points="607.22,190.40 614.02,190.40 610.62,184.20" fill="none" stroke="#f0303a" stroke-width="1.0" stroke-linejoin="miter"/>
<polygon points="618.48,180.60 625.28,180.60 621.88,174.40" fill="none" stroke="#f0303a" stroke-width="1.0" stroke-linejoin="miter"/>
<polygon points="618.48,184.40 625.28,184.40 621.88,178.20" fill="none" stroke="#f0303a" stroke-width="1.0" stroke-linejoin="miter"/>
<polygon points="618.48,188.50 625.28,188.50 621.88,182.30" fill="none" stroke="#f0303a" stroke-width="1.0" stroke-linejoin="miter"/>
<polygon points="628.76,175.80 635.56,175.80 632.16,169.60" fill="none" stroke="#f0303a" stroke-width="1.0" stroke-linejoin="miter"/>
<polygon points="628.76,183.70 635.56,183.70 632.16,177.50" fill="none" stroke="#f0303a" stroke-width="1.0" stroke-linejoin="miter"/>
<polygon points="628.76,188.30 635.56,188.30 632.16,182.10" fill="none" stroke="#f0303a" stroke-width="1.0" stroke-linejoin="miter"/>
<polygon points="638.21,183.10 645.01,183.10 641.61,176.90" fill="none" stroke="#f0303a" stroke-width="1.0" stroke-linejoin="miter"/>
<polygon points="638.21,188.10 645.01,188.10 641.61,181.90" fill="none" stroke="#f0303a" stroke-width="1.0" stroke-linejoin="miter"/>
<polygon points="638.21,188.90 645.01,188.90 641.61,182.70" fill="none" stroke="#f0303a" stroke-width="1.0" stroke-linejoin="miter"/>
<polygon points="646.97,182.70 653.77,182.70 650.37,176.50" fill="none" stroke="#f0303a" stroke-width="1.0" stroke-linejoin="miter"/>
<polygon points="646.97,187.30 653.77,187.30 650.37,181.10" fill="none" stroke="#f0303a" stroke-width="1.0" stroke-linejoin="miter"/>
<polygon points="646.97,190.40 653.77,190.40 650.37,184.20" fill="none" stroke="#f0303a" stroke-width="1.0" stroke-linejoin="miter"/>
<polygon points="655.12,182.30 661.92,182.30 658.52,176.10" fill="none" stroke="#f0303a" stroke-width="1.0" stroke-linejoin="miter"/>
<polygon points="655.12,184.80 661.92,184.80 658.52,178.60" fill="none" stroke="#f0303a" stroke-width="1.0" stroke-linejoin="miter"/>
<polygon points="655.12,186.90 661.92,186.90 658.52,180.70" fill="none" stroke="#f0303a" stroke-width="1.0" stroke-linejoin="miter"/>
<polygon points="662.74,161.30 669.54,161.30 666.14,155.10" fill="none" stroke="#f0303a" stroke-width="1.0" stroke-linejoin="miter"/>
<polygon points="662.74,176.00 669.54,176.00 666.14,169.80" fill="none" stroke="#f0303a" stroke-width="1.0" stroke-linejoin="miter"/>
<polygon points="662.74,180.20 669.54,180.20 666.14,174.00" fill="none" stroke="#f0303a" stroke-width="1.0" stroke-linejoin="miter"/>
<polygon points="669.90,181.00 676.70,181.00 673.30,174.80" fill="none" stroke="#f0303a" stroke-width="1.0" stroke-linejoin="miter"/>
<polygon points="669.90,187.30 676.70,187.30 673.30,181.10" fill="none" stroke="#f0303a" stroke-width="1.0" stroke-linejoin="miter"/>
<polygon points="669.90,188.50 676.70,188.50 673.30,182.30" fill="none" stroke="#f0303a" stroke-width="1.0" stroke-linejoin="miter"/>
<polygon points="676.65,180.20 683.45,180.20 680.05,174.00" fill="none" stroke="#f0303a" stroke-width="1.0" stroke-linejoin="miter"/>
<polygon points="676.65,185.80 683.45,185.80 680.05,179.60" fill="none" stroke="#f0303a" stroke-width="1.0" stroke-linejoin="miter"/>
<polygon points="676.65,187.30 683.45,187.30 680.05,181.10" fill="none" stroke="#f0303a" stroke-width="1.0" stroke-linejoin="miter"/>
<polygon points="683.04,180.20 689.84,180.20 686.44,174.00" fill="none" stroke="#f0303a" stroke-width="1.0" stroke-linejoin="miter"/>
<polygon points="683.04,185.80 689.84,185.80 686.44,179.60" fill="none" stroke="#f0303a" stroke-width="1.0" stroke-linejoin="miter"/>
<polygon points="683.04,187.90 689.84,187.90 686.44,181.70" fill="none" stroke="#f0303a" stroke-width="1.0" stroke-linejoin="miter"/>
<text transform="translate(44.80,23.50) scale(1.06,1)" text-anchor="end" font-family="'Liberation Sans', Arial, Helvetica, sans-serif" font-size="9.8" fill="#000">10<tspan font-size="6.8" dy="-4.4">0</tspan></text>
<text transform="translate(44.80,57.50) scale(1.06,1)" text-anchor="end" font-family="'Liberation Sans', Arial, Helvetica, sans-serif" font-size="9.8" fill="#000">10<tspan font-size="6.8" dy="-4.4">-2</tspan></text>
<text transform="translate(44.80,91.50) scale(1.06,1)" text-anchor="end" font-family="'Liberation Sans', Arial, Helvetica, sans-serif" font-size="9.8" fill="#000">10<tspan font-size="6.8" dy="-4.4">-4</tspan></text>
<text transform="translate(44.80,125.50) scale(1.06,1)" text-anchor="end" font-family="'Liberation Sans', Arial, Helvetica, sans-serif" font-size="9.8" fill="#000">10<tspan font-size="6.8" dy="-4.4">-6</tspan></text>
<text transform="translate(44.80,159.50) scale(1.06,1)" text-anchor="end" font-family="'Liberation Sans', Arial, Helvetica, sans-serif" font-size="9.8" fill="#000">10<tspan font-size="6.8" dy="-4.4">-8</tspan></text>
<text transform="translate(44.80,193.50) scale(1.06,1)" text-anchor="end" font-family="'Liberation Sans', Arial, Helvetica, sans-serif" font-size="9.8" fill="#000">10<tspan font-size="6.8" dy="-4.4">-10</tspan></text>
<text transform="translate(44.80,227.50) scale(1.06,1)" text-anchor="end" font-family="'Liberation Sans', Arial, Helvetica, sans-serif" font-size="9.8" fill="#000">10<tspan font-size="6.8" dy="-4.4">-12</tspan></text>
<text transform="translate(402.60,23.50) scale(1.06,1)" text-anchor="end" font-family="'Liberation Sans', Arial, Helvetica, sans-serif" font-size="9.8" fill="#000">10<tspan font-size="6.8" dy="-4.4">0</tspan></text>
<text transform="translate(402.60,52.64) scale(1.06,1)" text-anchor="end" font-family="'Liberation Sans', Arial, Helvetica, sans-serif" font-size="9.8" fill="#000">10<tspan font-size="6.8" dy="-4.4">-2</tspan></text>
<text transform="translate(402.60,81.79) scale(1.06,1)" text-anchor="end" font-family="'Liberation Sans', Arial, Helvetica, sans-serif" font-size="9.8" fill="#000">10<tspan font-size="6.8" dy="-4.4">-4</tspan></text>
<text transform="translate(402.60,110.93) scale(1.06,1)" text-anchor="end" font-family="'Liberation Sans', Arial, Helvetica, sans-serif" font-size="9.8" fill="#000">10<tspan font-size="6.8" dy="-4.4">-6</tspan></text>
<text transform="translate(402.60,140.07) scale(1.06,1)" text-anchor="end" font-family="'Liberation Sans', Arial, Helvetica, sans-serif" font-size="9.8" fill="#000">10<tspan font-size="6.8" dy="-4.4">-8</tspan></text>
<text transform="translate(402.60,169.21) scale(1.06,1)" text-anchor="end" font-family="'Liberation Sans', Arial, Helvetica, sans-serif" font-size="9.8" fill="#000">10<tspan font-size="6.8" dy="-4.4">-10</tspan></text>
<text transform="translate(402.60,198.36) scale(1.06,1)" text-anchor="end" font-family="'Liberation Sans', Arial, Helvetica, sans-serif" font-size="9.8" fill="#000">10<tspan font-size="6.8" dy="-4.4">-12</tspan></text>
<text transform="translate(402.60,227.50) scale(1.06,1)" text-anchor="end" font-family="'Liberation Sans', Arial, Helvetica, sans-serif" font-size="9.8" fill="#000">10<tspan font-size="6.8" dy="-4.4">-14</tspan></text>
<text transform="translate(134.30,237.0) scale(1.06,1)" text-anchor="middle" font-family="'Liberation Sans', Arial, Helvetica, sans-serif" font-size="9.8" fill="#000">10<tspan font-size="6.8" dy="-4.4">5</tspan></text>
<text transform="translate(235.00,237.0) scale(1.06,1)" text-anchor="middle" font-family="'Liberation Sans', Arial, Helvetica, sans-serif" font-size="9.8" fill="#000">10<tspan font-size="6.8" dy="-4.4">6</tspan></text>
<text transform="translate(336.00,237.0) scale(1.06,1)" text-anchor="middle" font-family="'Liberation Sans', Arial, Helvetica, sans-serif" font-size="9.8" fill="#000">10<tspan font-size="6.8" dy="-4.4">7</tspan></text>
<text transform="translate(421.80,236.5) scale(1.06,1)" text-anchor="middle" font-family="'Liberation Sans', Arial, Helvetica, sans-serif" font-size="9.8" fill="#000">0.02</text>
<text transform="translate(530.10,236.5) scale(1.06,1)" text-anchor="middle" font-family="'Liberation Sans', Arial, Helvetica, sans-serif" font-size="9.8" fill="#000">0.05</text>
<text transform="translate(611.40,236.5) scale(1.06,1)" text-anchor="middle" font-family="'Liberation Sans', Arial, Helvetica, sans-serif" font-size="9.8" fill="#000">0.1</text>
<text transform="translate(694.00,236.5) scale(1.06,1)" text-anchor="middle" font-family="'Liberation Sans', Arial, Helvetica, sans-serif" font-size="9.8" fill="#000">0.2</text>
<text x="80.3" y="13.9" font-family="'Liberation Serif', 'Times New Roman', serif" font-size="19.6" fill="#2a2a2a">(</text>
<text transform="translate(86.6,13.1) scale(1.2,1)" font-family="'Liberation Serif', 'Times New Roman', serif" font-size="19.5" fill="#111">a</text>
<text x="95.2" y="13.9" font-family="'Liberation Serif', 'Times New Roman', serif" font-size="19.6" fill="#2a2a2a">)</text>
<text x="437.7" y="13.9" font-family="'Liberation Serif', 'Times New Roman', serif" font-size="19.6" fill="#2a2a2a">(</text>
<text transform="translate(444.5,13.1) scale(1.22,1)" font-family="'Liberation Serif', 'Times New Roman', serif" font-size="17" fill="#111">b</text>
<text x="452.9" y="13.9" font-family="'Liberation Serif', 'Times New Roman', serif" font-size="19.6" fill="#2a2a2a">)</text>
<text x="187.3" y="251.6" text-anchor="middle" font-family="'Liberation Serif', 'Times New Roman', serif" font-style="italic" font-size="20.5" fill="#111">M</text>
<text x="538.8" y="252.5" text-anchor="middle" font-family="'Liberation Serif', 'Times New Roman', serif" font-style="italic" font-size="19" fill="#111">ε</text>
<text transform="translate(13.5,128.5) rotate(-90)" text-anchor="middle" font-family="'DejaVu Math TeX Gyre', 'DejaVu Serif', serif" font-size="19" fill="#111">&#x1D4A9;</text>
<text transform="translate(371.6,128.8) rotate(-90)" text-anchor="middle" font-family="'DejaVu Math TeX Gyre', 'DejaVu Serif', serif" font-size="19" fill="#111">&#x1D4A9;</text>
</g>
</svg>
</body></html>
